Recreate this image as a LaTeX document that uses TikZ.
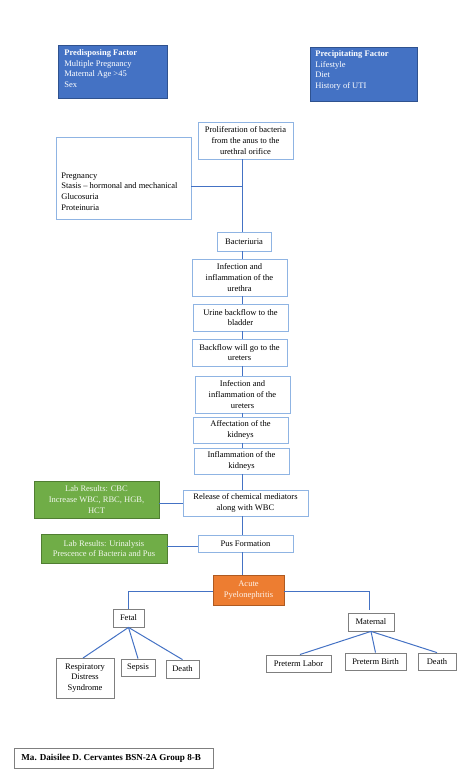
\documentclass[tikz,border=0pt]{standalone}
\usepackage{fontspec}
\setmainfont{Liberation Serif}
\definecolor{lineblue}{HTML}{4472C4}
\definecolor{boxedge}{HTML}{8FB4E3}
\definecolor{fillblue}{HTML}{4472C4}
\definecolor{edgeblue}{HTML}{2F528F}
\definecolor{fillgreen}{HTML}{70AD47}
\definecolor{edgegreen}{HTML}{507E32}
\definecolor{fillorange}{HTML}{ED7D31}
\definecolor{edgeorange}{HTML}{AE5A21}
\definecolor{edgegray}{HTML}{7F7F7F}
\tikzset{
  x=1pt, y=-1pt,
  base/.style={inner sep=0pt, font=\fontsize{8.5}{10.8}\selectfont, line width=0.8pt},
  flowbox/.style={base, draw=boxedge, fill=white, align=center, text=black},
  factorbox/.style={base, draw=edgeblue, fill=fillblue, text=white, align=left},
  labbox/.style={base, draw=edgegreen, fill=fillgreen, text=white!90!fillgreen, align=center},
  acutebox/.style={base, draw=edgeorange, fill=fillorange, text=white!90!fillorange, align=center},
  outbox/.style={base, draw=edgegray, fill=white, align=center},
  conn/.style={draw=lineblue, line width=1pt},
}
\begin{document}
\begin{tikzpicture}
\useasboundingbox (0,0) rectangle (474,780);
\coordinate (spine) at (242,0);

% factor boxes
\node[factorbox, minimum width=109, minimum height=53] (predis) at (112.5,71.5) {};
\node[base, text=white, align=left, anchor=north west] (predistxt) at (64,49)
  {\textbf{Predisposing Factor}\\Multiple Pregnancy\\Maternal Age >45\\Sex};
\node[factorbox, minimum width=107, minimum height=54] (precip) at (363.5,74) {};
\node[base, text=white, align=left, anchor=north west] (preciptxt) at (315,50)
  {\textbf{Precipitating Factor}\\Lifestyle\\Diet\\History of UTI};

% main flow
\node[flowbox, minimum width=95, minimum height=37] (prolif) at (245.5,140.5)
  {Proliferation of bacteria\\from the anus to the\\urethral orifice};
\node[flowbox, minimum width=135, minimum height=82] (preg) at (123.5,178) {};
\node[base, align=left, anchor=west] (pregtxt) at (61,191.5)
  {Pregnancy\\Stasis -- hormonal and mechanical\\Glucosuria\\Proteinuria};
\node[flowbox, minimum width=54, minimum height=19] (bact) at (244,241.5) {Bacteriuria};
\node[flowbox, minimum width=95, minimum height=37] (ureth) at (239.5,277.5)
  {Infection and\\inflammation of the\\urethra};
\node[flowbox, minimum width=95, minimum height=27] (urine) at (240.5,317.5)
  {Urine backflow to the\\bladder};
\node[flowbox, minimum width=95, minimum height=27] (backf) at (239.5,352.5)
  {Backflow will go to the\\ureters};
\node[flowbox, minimum width=95, minimum height=37] (uret) at (242.5,394.5)
  {Infection and\\inflammation of the\\ureters};
\node[flowbox, minimum width=95, minimum height=26] (affect) at (240.5,430)
  {Affectation of the\\kidneys};
\node[flowbox, minimum width=95, minimum height=26] (inflk) at (241.5,461)
  {Inflammation of the\\kidneys};
\node[flowbox, minimum width=125, minimum height=26] (release) at (245.5,503)
  {Release of chemical mediators\\along with WBC};
\node[labbox, minimum width=125, minimum height=37] (cbc) at (96.5,499.5)
  {Lab Results: CBC\\Increase WBC, RBC, HGB,\\HCT};
\node[flowbox, minimum width=95, minimum height=17] (pus) at (245.5,543.5) {Pus Formation};
\node[labbox, minimum width=126, minimum height=29] (urin) at (104,548.5)
  {Lab Results: Urinalysis\\Prescence of Bacteria and Pus};
\node[acutebox, minimum width=71, minimum height=30] (acute) at (248.5,590)
  {Acute\\Pyelonephritis};

% outcomes
\node[outbox, minimum width=31, minimum height=18] (fetal) at (128.5,618) {Fetal};
\node[outbox, minimum width=46, minimum height=18] (maternal) at (371,622) {Maternal};
\node[outbox, minimum width=58, minimum height=40] (resp) at (85,678)
  {Respiratory\\Distress\\Syndrome};
\node[outbox, minimum width=34, minimum height=17] (sepsis) at (138,667.5) {Sepsis};
\node[outbox, minimum width=33, minimum height=18] (death1) at (182.5,669) {Death};
\node[outbox, minimum width=65, minimum height=17] (labor) at (298.5,663.5) {Preterm Labor};
\node[outbox, minimum width=61, minimum height=17] (birth) at (375.5,661.5) {Preterm Birth};
\node[outbox, minimum width=38, minimum height=17] (death2) at (437,661.5) {Death};

% footer
\node[outbox, minimum width=199, minimum height=20] (footer) at (113.5,758) {};
\node[base, font=\fontsize{9.1}{10}\selectfont\bfseries, anchor=west] (footertxt) at (21,758)
  {Ma. Daisilee D. Cervantes BSN-2A Group 8-B};

% connectors
\draw[conn] (prolif.south -| spine) -- (bact.north -| spine);
\draw[conn] (preg.east |- 0,186) -- (spine |- 0,186);
\draw[conn] (bact.south -| spine) -- (ureth.north -| spine);
\draw[conn] (ureth.south -| spine) -- (urine.north -| spine);
\draw[conn] (urine.south -| spine) -- (backf.north -| spine);
\draw[conn] (backf.south -| spine) -- (uret.north -| spine);
\draw[conn] (uret.south -| spine) -- (affect.north -| spine);
\draw[conn] (affect.south -| spine) -- (inflk.north -| spine);
\draw[conn] (inflk.south -| spine) -- (release.north -| spine);
\draw[conn] (release.south -| spine) -- (pus.north -| spine);
\draw[conn] (pus.south -| spine) -- (acute.north -| spine);
\draw[conn] (cbc.east |- release.west) -- (release.west);
\draw[conn] (urin.east |- 0,546) -- (pus.west |- 0,546);
\draw[conn] (acute.west |- 0,591) -- (fetal.north |- 0,591) -- (fetal.north);
\draw[conn] (acute.east |- 0,591) -- (369,591) -- (369,610);
\draw[conn] (fetal.south) -- (83,658);
\draw[conn] (fetal.south) -- (sepsis.north);
\draw[conn] (fetal.south) -- (death1.north);
\draw[conn] (maternal.south) -- (300,654.5);
\draw[conn] (maternal.south) -- (birth.north);
\draw[conn] (maternal.south) -- (death2.north);
\end{tikzpicture}
\end{document}
